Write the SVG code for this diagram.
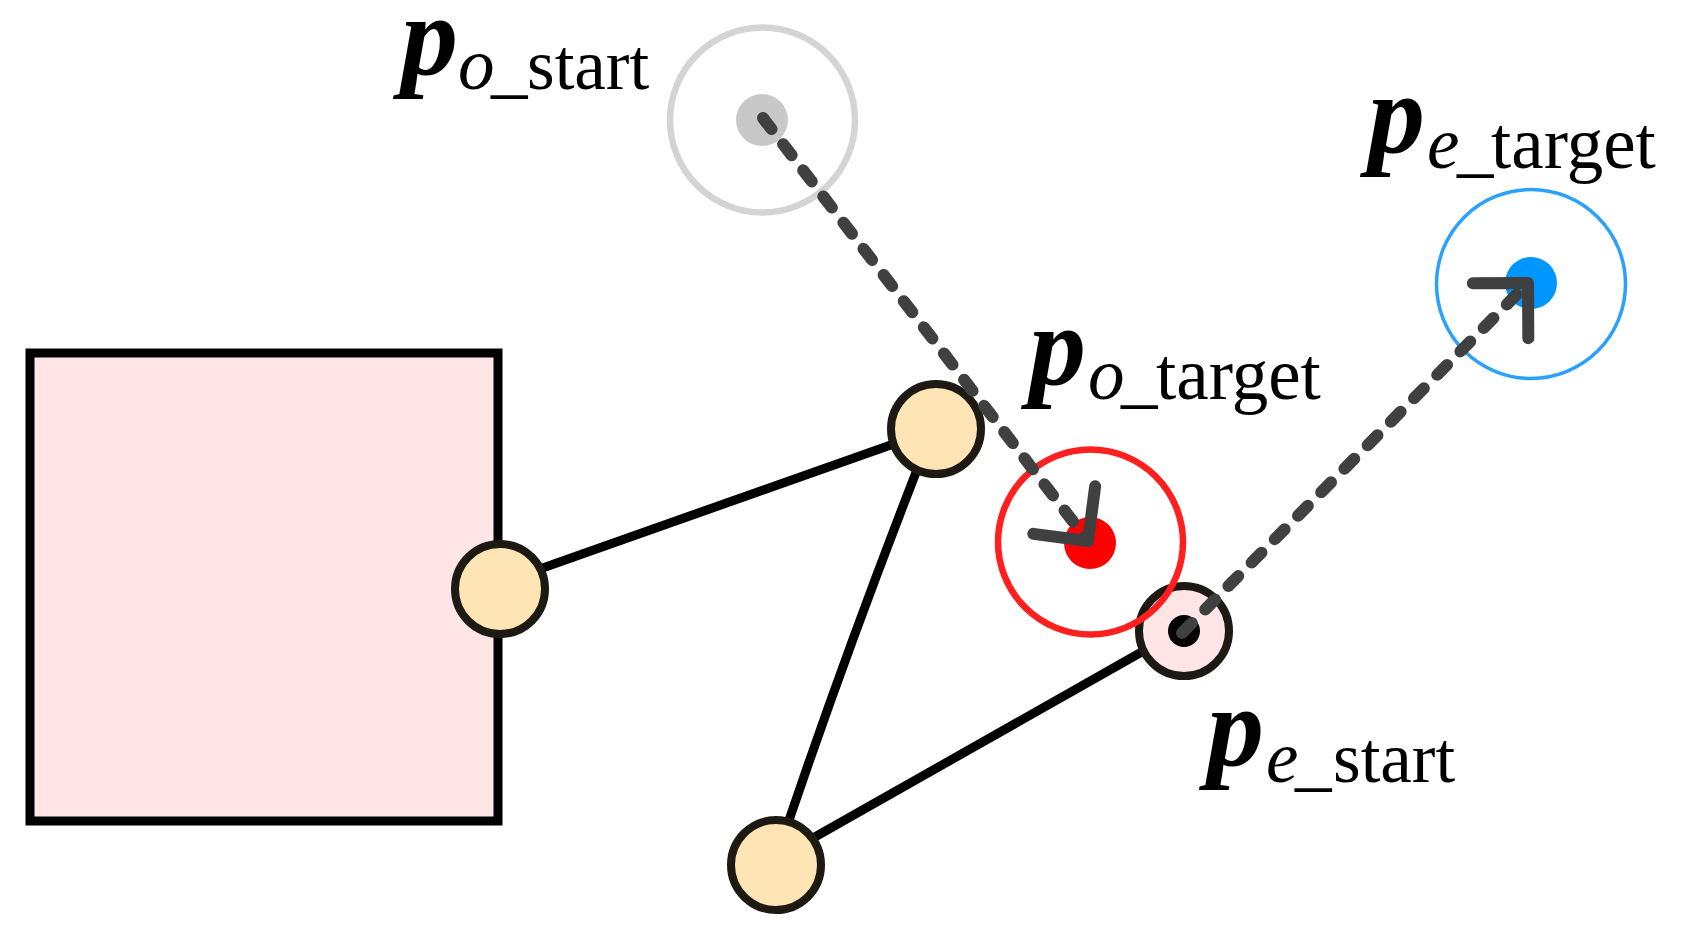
<svg xmlns="http://www.w3.org/2000/svg" width="1681" height="937" viewBox="0 0 1681 937">
<style>
.joint{fill:#ffe5b5;stroke:#1c1a12;stroke-width:8}
.link{fill:none;stroke:#000;stroke-width:9}
.dash{fill:none;stroke:#404040;stroke-width:12;stroke-linecap:round;stroke-dasharray:14 19;marker-end:url(#arrow)}
.lab{font-family:"Liberation Serif","Times New Roman",serif;fill:#000;font-size:73px}
.p{font-weight:bold;font-style:italic;font-size:114px}
.i{font-style:italic}
.s{font-size:71px}
</style>
<defs>
<marker id="arrow" markerUnits="userSpaceOnUse" markerWidth="100" markerHeight="140" refX="60" refY="70" orient="auto" overflow="visible">
<path d="M21,31 L60,70 L21,109" fill="none" stroke="#404040" stroke-width="12" stroke-linecap="round" stroke-linejoin="round"/>
</marker>
</defs>
<rect width="1681" height="937" fill="#fff"/>
<rect id="base" x="30" y="353" width="468" height="468" fill="#ffe5e5" stroke="#000" stroke-width="9"/>
<g id="links">
<path class="link" d="M500,583 L936,429"/>
<path class="link" d="M933,429 Q842,660 774,865"/>
<path class="link" d="M1184,628 L776,859"/>
</g>
<g id="joint1"><circle class="joint" cx="500" cy="589" r="45"/></g>
<g id="joint2"><circle class="joint" cx="936" cy="429" r="45"/></g>
<g id="joint3"><circle class="joint" cx="776" cy="865" r="45"/></g>
<g id="end-effector"><circle cx="1184" cy="631" r="45" fill="#ffe5e5" stroke="#1c1a12" stroke-width="8"/><circle cx="1184" cy="631" r="16" fill="#000"/></g>
<g id="o-start"><circle cx="762.5" cy="120" r="92.5" fill="none" stroke="#d4d4d4" stroke-width="6.5"/><circle cx="762" cy="120" r="26" fill="#c8c8c8"/></g>
<g id="o-target"><circle cx="1090.5" cy="542" r="92.5" fill="none" stroke="#ff1f1f" stroke-width="6.5"/><circle cx="1090" cy="543" r="26" fill="#f00"/></g>
<g id="e-target"><circle cx="1531" cy="284" r="94.5" fill="none" stroke="#2aa0ff" stroke-width="3.5"/><circle cx="1531" cy="283" r="26" fill="#0096ff"/></g>
<g id="connectors">
<path class="dash" d="M763,118 L1088,541"/>
<path class="dash" d="M1182,633 L1528,283"/>
</g>
<g id="labels">
<text class="lab"><tspan class="p" x="401" y="75">p</tspan><tspan class="i" x="458" y="89">o</tspan><tspan x="491" y="89">_</tspan><tspan class="s" x="527" y="89">start</tspan></text>
<text class="lab"><tspan class="p" x="1029" y="385">p</tspan><tspan class="i" x="1088" y="399">o</tspan><tspan x="1121" y="399">_</tspan><tspan x="1156" y="399">target</tspan></text>
<text class="lab"><tspan class="p" x="1368" y="153">p</tspan><tspan class="i" x="1427" y="168">e</tspan><tspan x="1457" y="168">_</tspan><tspan x="1491" y="168">target</tspan></text>
<text class="lab"><tspan class="p" x="1207" y="766">p</tspan><tspan class="i" x="1266" y="782">e</tspan><tspan x="1295" y="782">_</tspan><tspan class="s" x="1333" y="782">start</tspan></text>
</g>
</svg>
